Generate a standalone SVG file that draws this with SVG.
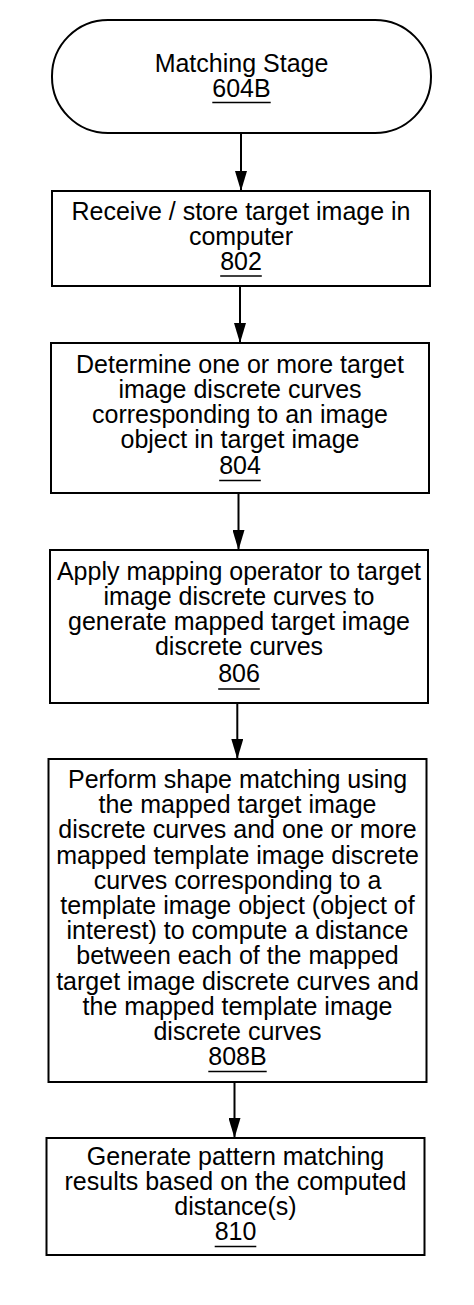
<svg xmlns="http://www.w3.org/2000/svg" width="474" height="1305" viewBox="0 0 474 1305">
<style>
.bg{fill:#ffffff}
.box{fill:#ffffff;stroke:#000000;stroke-width:2}
.t{font-family:"Liberation Sans",Arial,sans-serif;font-size:25px;fill:#000000;text-anchor:middle}
.ul{stroke:#000000;stroke-width:1.6}
.conn{stroke:#000000;stroke-width:2;fill:none;marker-end:url(#arrow)}
</style>
<defs>
<marker id="arrow" markerUnits="userSpaceOnUse" markerWidth="20" markerHeight="12" refX="20" refY="6" orient="auto">
<path d="M0,0 L20,6 L0,12 Z" fill="#000000"/>
</marker>
</defs>
<rect class="bg" x="0" y="0" width="474" height="1305"/>

<g id="connectors">
<line class="conn" x1="241" y1="133" x2="241" y2="191"/>
<line class="conn" x1="240" y1="286" x2="240" y2="343"/>
<line class="conn" x1="238.5" y1="493" x2="238.5" y2="550"/>
<line class="conn" x1="237.3" y1="703" x2="237.3" y2="759"/>
<line class="conn" x1="234.5" y1="1082" x2="234.5" y2="1138"/>
</g>

<g id="node-604B">
<rect class="box" x="52" y="20" width="379" height="113" rx="56" ry="56"/>
<text class="t" x="241.5" y="72">Matching Stage</text>
<text class="t" x="241.5" y="97">604B</text>
<line class="ul" x1="212.3" y1="102.5" x2="270.7" y2="102.5"/>
</g>

<g id="node-802">
<rect class="box" x="52" y="191" width="378" height="95"/>
<text class="t" x="241" y="220">Receive / store target image in</text>
<text class="t" x="241" y="245">computer</text>
<text class="t" x="241" y="270">802</text>
<line class="ul" x1="220.2" y1="276" x2="261.8" y2="276"/>
</g>

<g id="node-804">
<rect class="box" x="51" y="343" width="378" height="150"/>
<text class="t" x="240" y="373">Determine one or more target</text>
<text class="t" x="240" y="398">image discrete curves</text>
<text class="t" x="240" y="423">corresponding to an image</text>
<text class="t" x="240" y="448">object in target image</text>
<text class="t" x="240" y="474">804</text>
<line class="ul" x1="219.2" y1="480.5" x2="260.8" y2="480.5"/>
</g>

<g id="node-806">
<rect class="box" x="50" y="550" width="378" height="153"/>
<text class="t" x="239" y="580">Apply mapping operator to target</text>
<text class="t" x="239" y="605">image discrete curves to</text>
<text class="t" x="239" y="630">generate mapped target image</text>
<text class="t" x="239" y="655">discrete curves</text>
<text class="t" x="239" y="682">806</text>
<line class="ul" x1="218.2" y1="689" x2="259.8" y2="689"/>
</g>

<g id="node-808B">
<rect class="box" x="48.5" y="759" width="378" height="323"/>
<text class="t" x="237.5" y="788">Perform shape matching using</text>
<text class="t" x="237.5" y="813">the mapped target image</text>
<text class="t" x="237.5" y="838">discrete curves and one or more</text>
<text class="t" x="237.5" y="864">mapped template image discrete</text>
<text class="t" x="237.5" y="889">curves corresponding to a</text>
<text class="t" x="237.5" y="914">template image object (object of</text>
<text class="t" x="237.5" y="939">interest) to compute a distance</text>
<text class="t" x="237.5" y="964">between each of the mapped</text>
<text class="t" x="237.5" y="990">target image discrete curves and</text>
<text class="t" x="237.5" y="1015">the mapped template image</text>
<text class="t" x="237.5" y="1040">discrete curves</text>
<text class="t" x="237.5" y="1065">808B</text>
<line class="ul" x1="208.3" y1="1071.5" x2="266.7" y2="1071.5"/>
</g>

<g id="node-810">
<rect class="box" x="46.5" y="1138" width="378" height="117"/>
<text class="t" x="235.5" y="1165">Generate pattern matching</text>
<text class="t" x="235.5" y="1190">results based on the computed</text>
<text class="t" x="235.5" y="1215">distance(s)</text>
<text class="t" x="235.5" y="1240">810</text>
<line class="ul" x1="214.7" y1="1246.5" x2="256.3" y2="1246.5"/>
</g>
</svg>
